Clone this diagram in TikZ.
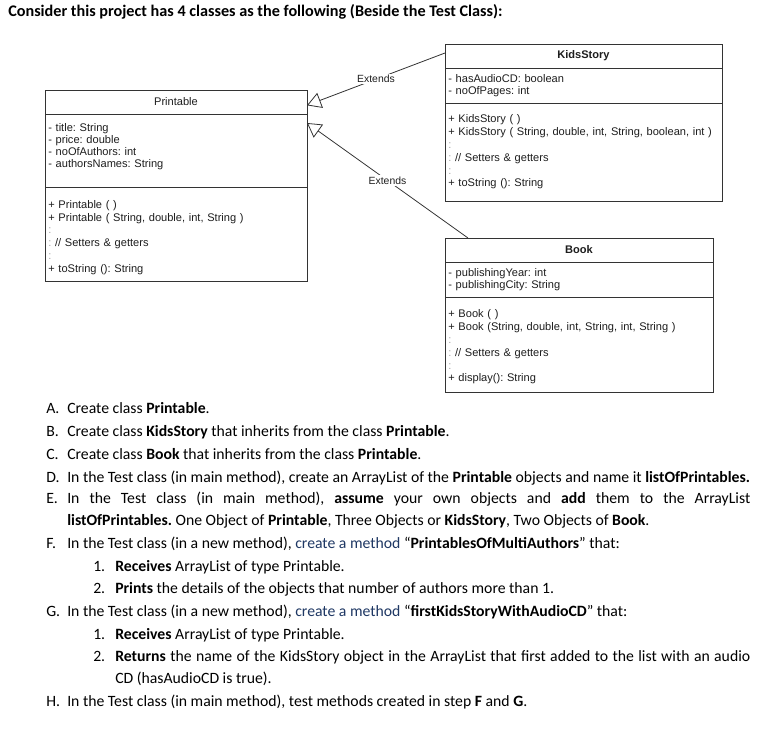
\documentclass[tikz,border=0pt]{standalone}
\usepackage{fontspec}
\setmainfont{Carlito}
\newfontfamily\umlsans{Liberation Sans}
\usetikzlibrary{arrows.meta,positioning}
\frenchspacing

\definecolor{umlline}{RGB}{51,51,51}
\definecolor{umltext}{RGB}{30,30,30}
\definecolor{colondots}{RGB}{165,165,165}
\definecolor{methodblue}{RGB}{31,56,100}

\newcommand{\cln}{{\color{colondots}:}}
\newcommand{\umlfont}{\umlsans\fontsize{8.3pt}{9pt}\selectfont}

\begin{document}
\begin{tikzpicture}[x=0.75pt,y=-0.75pt,
  umlhead/.style={draw=umlline,outer sep=0pt,inner sep=0pt,minimum height=18pt,
                  font=\umlfont,text=umltext},
  umlpart/.style={draw=umlline,outer sep=0pt,inner xsep=2.5pt,inner ysep=0pt,
                  align=left,font=\umlfont,text=umltext},
  umlmeth/.style={umlpart,font=\umlsans\fontsize{8.3pt}{9.6pt}\selectfont},
  extends/.style={draw=umlline,line width=0.6pt,
                  -{Triangle[open,length=10.5pt,width=12pt]}},
  extlabel/.style={fill=white,inner sep=1pt,text=umltext,
                   font=\umlsans\fontsize{7.8pt}{9pt}\selectfont},
  itemtext/.style={anchor=base west,inner sep=0pt,font=\fontsize{11.8pt}{14pt}\selectfont},
]
  \path[fill=white] (0,0) rectangle (757,737);
  \useasboundingbox (0,0) rectangle (757,737);

  \node[anchor=base west,inner sep=0pt,font=\bfseries\fontsize{12.15pt}{14pt}\selectfont]
    (title) at (8,17) {Consider this project has 4 classes as the following (Beside the Test Class):};

  \node[umlhead,minimum width=196.5pt] (prHead) at (176,102) {Printable};
  \node[umlpart,below=0pt of prHead,text width=191.5pt,text height=13.5pt,text depth=41.25pt] (prAttr)
    {- title: String\\- price: double\\- noOfAuthors: int\\- authorsNames: String};
  \node[umlmeth,below=0pt of prAttr,text width=191.5pt,text height=16pt,text depth=54.5pt] (prMeth)
    {+ Printable ( )\\+ Printable ( String, double, int, String )\\\cln\\\cln{} // Setters \& getters\\\cln\\+ toString (): String};

  \node[umlhead,minimum width=207.75pt,font=\umlfont\bfseries] (ksHead) at (583.5,56) {KidsStory};
  \node[umlpart,below=0pt of ksHead,text width=202.75pt,text height=11.25pt,text depth=15pt] (ksAttr)
    {- hasAudioCD: boolean\\- noOfPages: int};
  \node[umlmeth,below=0pt of ksAttr,text width=202.75pt,text height=15pt,text depth=58.5pt] (ksMeth)
    {+ KidsStory ( )\\+ KidsStory ( String, double, int, String, boolean, int )\\\cln\\\cln{} // Setters \& getters\\\cln\\+ toString (): String};

  \node[umlhead,minimum width=201pt,font=\umlfont\bfseries] (bkHead) at (579,250) {Book};
  \node[umlpart,below=0pt of bkHead,text width=196pt,text height=11.25pt,text depth=15pt] (bkAttr)
    {- publishingYear: int\\- publishingCity: String};
  \node[umlmeth,below=0pt of bkAttr,text width=196pt,text height=15.75pt,text depth=55.5pt] (bkMeth)
    {+ Book ( )\\+ Book (String, double, int, String, int, String )\\\cln\\\cln{} // Setters \& getters\\\cln\\+ display(): String};

  \draw[extends] ([yshift=2.25pt]ksHead.west) -- node[extlabel] (extA) {Extends} ([yshift=-2.5pt]prHead.east);
  \draw[extends] ([xshift=17.25pt]bkHead.north west) -- node[extlabel] (extB) {Extends} ([yshift=-6.75pt]prAttr.north east);

  \foreach \l/\y in {A/414,B/437,C/460,D/483,E/504,F/549,G/617,H/706}
    \node[itemtext] (lab\l) at (46,\y) {\l.};
  \foreach \n/\y/\k in {1/571/F,2/594/F,1/639/G,2/662/G}
    \node[itemtext] (num\k\n) at (93,\y) {\n.};

  \node[itemtext] (itA) at (67,414) {Create class \textbf{Printable}.};
  \node[itemtext] (itB) at (67,437) {Create class \textbf{KidsStory} that inherits from the class \textbf{Printable}.};
  \node[itemtext] (itC) at (67,460) {Create class \textbf{Book} that inherits from the class \textbf{Printable}.};
  \node[itemtext] (itD) at (67,483) {In the Test class (in main method), create an ArrayList of the \textbf{Printable} objects and name it \textbf{listOfPrintables.}};
  \node[itemtext] (itE) at (67,504) {\makebox[512.25pt][s]{In the Test class (in main method), \textbf{assume} your own objects and \textbf{add} them to the ArrayList}};
  \node[itemtext] (itE2) at (67,526) {\textbf{listOfPrintables.} One Object of \textbf{Printable}, Three Objects or \textbf{KidsStory}, Two Objects of \textbf{Book}.};
  \node[itemtext] (itF) at (67,549) {In the Test class (in a new method), {\color{methodblue}create a method} “\textbf{PrintablesOfMultiAuthors}” that:};
  \node[itemtext] (itF1) at (115,571) {\textbf{Receives} ArrayList of type Printable.};
  \node[itemtext] (itF2) at (115,594) {\textbf{Prints} the details of the objects that number of authors more than 1.};
  \node[itemtext] (itG) at (67,617) {In the Test class (in a new method), {\color{methodblue}create a method} “\textbf{firstKidsStoryWithAudioCD}” that:};
  \node[itemtext] (itG1) at (115,639) {\textbf{Receives} ArrayList of type Printable.};
  \node[itemtext] (itG2) at (115,662) {\makebox[476.25pt][s]{\textbf{Returns} the name of the KidsStory object in the ArrayList that first added to the list with an audio}};
  \node[itemtext] (itG3) at (115,683) {CD (hasAudioCD is true).};
  \node[itemtext] (itH) at (67,706) {In the Test class (in main method), test methods created in step \textbf{F} and \textbf{G}.};
\end{tikzpicture}
\end{document}
